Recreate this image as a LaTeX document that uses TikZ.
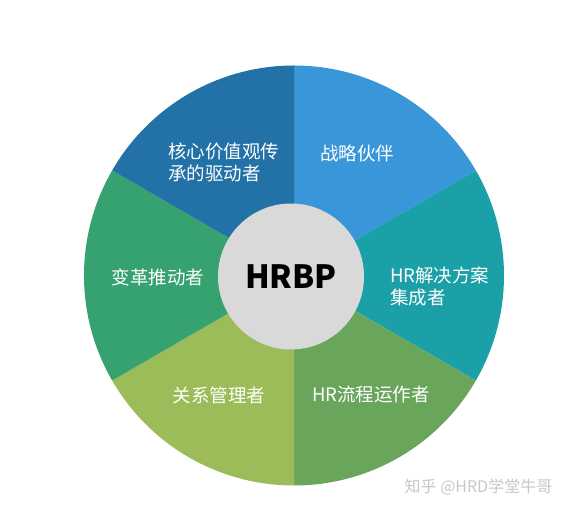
\documentclass[tikz,border=0pt]{standalone}
\usepackage{fontspec}
\newfontfamily\cjk{Noto Sans CJK SC}
\definecolor{cTL}{RGB}{34,114,168}
\definecolor{cTR}{RGB}{57,150,217}
\definecolor{cR}{RGB}{27,160,168}
\definecolor{cBR}{RGB}{106,165,92}
\definecolor{cBL}{RGB}{155,188,88}
\definecolor{cL}{RGB}{53,162,111}
\definecolor{cCore}{RGB}{217,217,217}
\definecolor{cMark}{RGB}{200,200,200}
\tikzset{
  lbl/.style={text=white,font=\cjk\fontsize{18.5}{22}\selectfont,inner sep=0pt},
  lbll/.style={lbl,align=left},
  core/.style={circle,fill=cCore,minimum size=146pt,inner sep=0pt,font=\cjk\bfseries\fontsize{32}{36}\selectfont,text=black},
  wmark/.style={text=cMark,font=\cjk\fontsize{16}{18}\selectfont,inner sep=0pt}
}
\begin{document}
\begin{tikzpicture}[x=1pt,y=1pt]
\useasboundingbox[fill=white] (-294,-234.5) rectangle (276,275.5);
\def\R{210}
\fill[cTR] (0,0) -- (90:\R) arc[start angle=90,end angle=30,radius=\R] -- cycle;
\fill[cR] (0,0) -- (30:\R) arc[start angle=30,end angle=-30,radius=\R] -- cycle;
\fill[cBR] (0,0) -- (-30:\R) arc[start angle=-30,end angle=-90,radius=\R] -- cycle;
\fill[cBL] (0,0) -- (-90:\R) arc[start angle=-90,end angle=-150,radius=\R] -- cycle;
\fill[cL] (0,0) -- (-150:\R) arc[start angle=-150,end angle=-210,radius=\R] -- cycle;
\fill[cTL] (0,0) -- (150:\R) arc[start angle=150,end angle=90,radius=\R] -- cycle;
\node[core] (hrbp) at (-3,-1) {HRBP};
\node[lbl] (zl) at (63,122.5) {战略伙伴};
\node[lbll,anchor=west] (hx) at (-126,113.5) {核心价值观传\\承的驱动者};
\node[lbll,anchor=west] (jj) at (96,-11) {HR解决方案\\集成者};
\node[lbl] (bg) at (-136,-1.5) {变革推动者};
\node[lbl] (gx) at (-75,-119.5) {关系管理者};
\node[lbl] (lc) at (77,-119.5) {HR流程运作者};
\node[wmark] (wm) at (184.5,-211.5) {知乎 @HRD学堂牛哥};
\end{tikzpicture}
\end{document}
